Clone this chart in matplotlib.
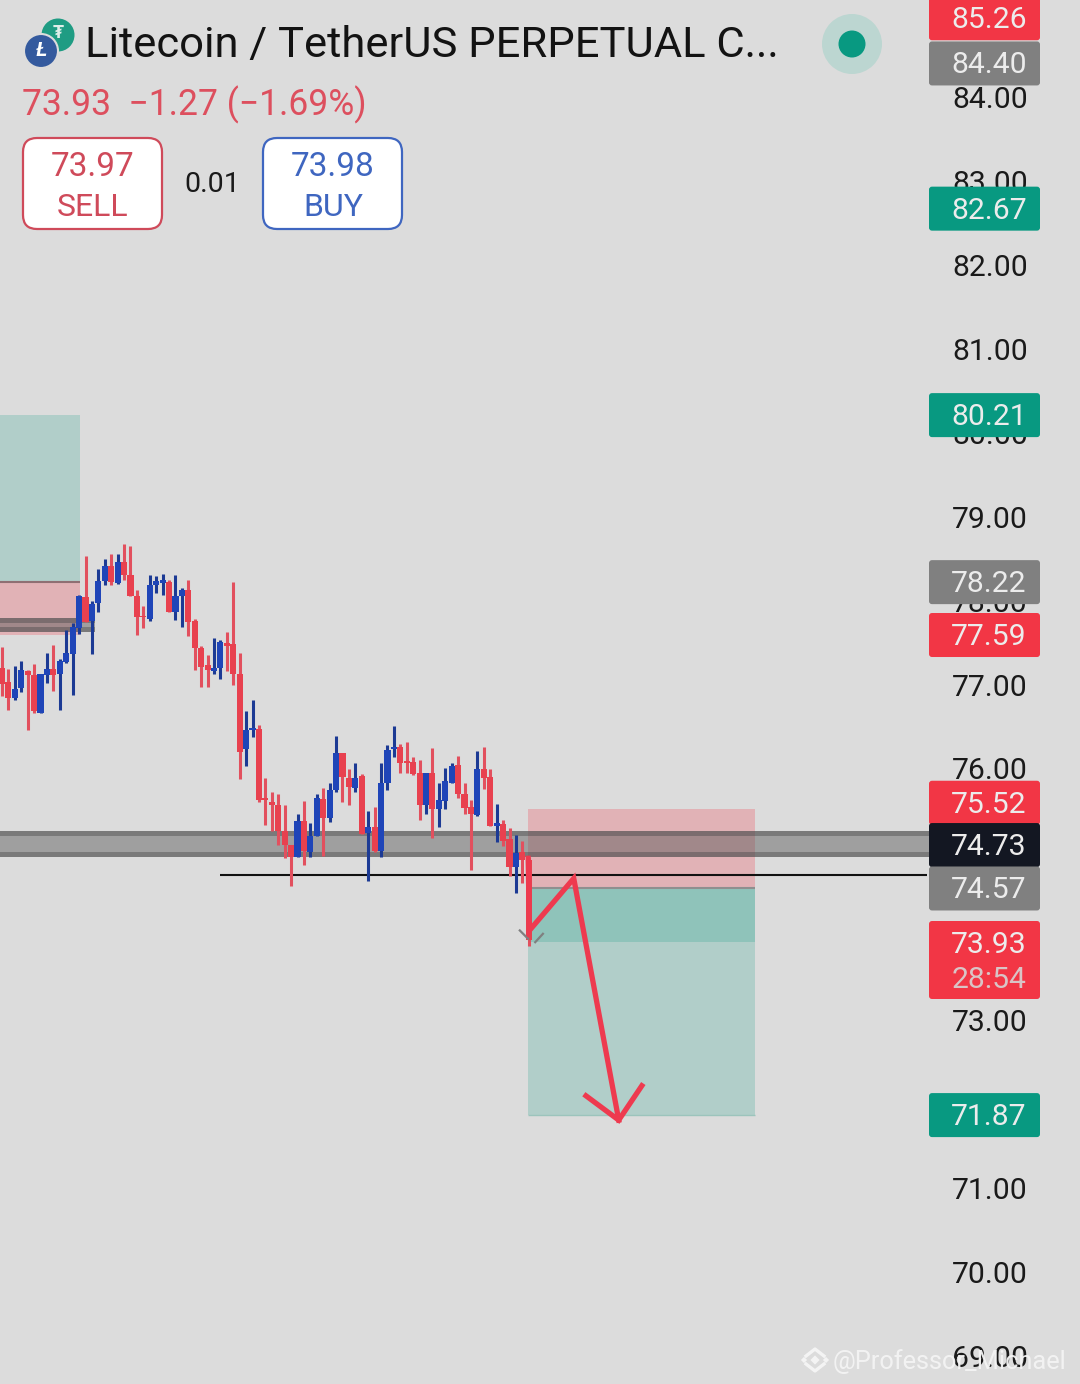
import matplotlib
matplotlib.use('Agg')
import matplotlib.pyplot as plt
from matplotlib.patches import Circle, FancyBboxPatch, Rectangle

plt.rcParams['font.family'] = ['Roboto', 'DejaVu Sans']

# OHLC
opens = [77.20, 77.03, 76.84, 76.96, 77.16, 77.11, 76.66, 77.11, 77.18, 77.13,
         77.27, 77.36, 77.67, 78.04, 77.76, 77.97, 78.23, 78.41, 78.21, 78.46,
         78.31, 78.06, 77.82, 77.78, 78.19, 78.21, 78.22, 77.87, 78.05, 78.13,
         77.76, 77.44, 77.23, 77.16, 77.20, 77.50, 77.48, 77.13, 76.23, 76.46,
         76.47, 75.65, 75.60, 75.57, 75.26, 75.09, 74.95, 75.37, 75.00, 75.19,
         75.64, 75.41, 75.74, 76.18, 75.89, 75.77, 75.91, 75.23, 75.30, 75.02,
         75.83, 76.23, 76.26, 76.09, 76.08, 75.94, 75.57, 75.95, 75.52, 75.61,
         75.83, 76.04, 75.70, 75.54, 75.45, 75.99, 75.90, 75.32, 75.34, 75.16,
         74.83, 75.00, 74.91]
highs = [77.45, 77.19, 77.22, 77.28, 77.17, 77.25, 77.12, 77.37, 77.47, 77.30,
         77.65, 77.73, 78.07, 78.53, 78.00, 78.38, 78.49, 78.55, 78.55, 78.68,
         78.65, 78.13, 77.93, 78.30, 78.29, 78.32, 78.24, 78.30, 78.15, 78.24,
         77.78, 77.46, 77.35, 77.56, 77.53, 77.63, 78.22, 77.38, 76.68, 76.82,
         76.52, 75.89, 75.72, 75.70, 75.56, 75.09, 75.46, 75.61, 75.35, 75.69,
         75.77, 75.83, 76.39, 76.19, 75.99, 76.07, 75.93, 75.49, 75.54, 76.07,
         76.28, 76.51, 76.29, 76.32, 76.14, 76.10, 75.95, 76.24, 75.83, 76.00,
         76.07, 76.15, 75.83, 75.63, 76.21, 76.25, 75.99, 75.58, 75.38, 75.29,
         75.21, 75.14, 74.95]
lows = [76.86, 76.70, 76.82, 76.91, 76.46, 76.66, 76.66, 77.02, 76.92, 76.70,
        77.26, 76.88, 77.60, 77.75, 77.36, 77.86, 78.19, 78.19, 78.20, 78.24,
        78.05, 77.59, 77.67, 77.76, 78.09, 78.07, 77.86, 77.77, 77.69, 77.58,
        77.17, 76.97, 76.97, 77.13, 77.06, 77.16, 76.99, 75.88, 76.03, 76.37,
        75.60, 75.33, 75.25, 75.09, 74.93, 74.60, 74.95, 74.85, 74.95, 75.19,
        74.96, 75.36, 75.72, 75.60, 75.56, 75.72, 75.22, 74.66, 75.01, 74.95,
        75.74, 76.14, 75.95, 75.95, 75.92, 75.38, 75.46, 75.17, 75.30, 75.52,
        75.83, 75.65, 75.46, 74.79, 75.43, 75.76, 75.31, 75.12, 75.08, 74.72,
        74.52, 74.64, 73.89]
closes = [77.01, 76.84, 76.95, 77.17, 77.11, 76.68, 77.12, 77.18, 77.11, 77.28,
          77.37, 77.69, 78.05, 77.75, 77.96, 78.23, 78.41, 78.22, 78.46, 78.31,
          78.06, 77.81, 77.80, 78.19, 78.23, 78.24, 77.86, 78.05, 78.13, 77.74,
          77.43, 77.21, 77.17, 77.20, 77.51, 77.46, 77.12, 76.20, 76.46, 76.48,
          75.63, 75.63, 75.56, 75.25, 75.09, 74.95, 75.37, 75.02, 75.20, 75.65,
          75.41, 75.74, 76.18, 75.90, 75.78, 75.89, 75.22, 75.30, 75.02, 75.83,
          76.22, 76.26, 76.07, 76.07, 75.93, 75.57, 75.95, 75.52, 75.63, 75.85,
          76.03, 75.69, 75.53, 75.46, 75.99, 75.89, 75.31, 75.35, 75.14, 74.83,
          74.99, 74.91, 73.96]

price_ticks = [69, 70, 71, 72, 73, 74, 75, 76, 77, 78, 79, 80, 81, 82, 83, 84, 85]

# price tags: value, colour, shift in pixels when the app moved the tag
tag_values = [85.26, 84.40, 82.67, 80.21, 78.22, 77.59, 75.52, 74.73, 74.57, 71.87]
tag_colors = ['#f23645', '#808080', '#089981', '#089981', '#808080', '#f23645',
              '#f23645', '#131722', '#808080', '#089981']
tag_shift = [27, 0, 0, 0, 0, 0, -6, -30, 0, 0]

# drawn levels
old_box_top, old_box_mid, old_box_bot = 80.21, 78.22, 77.59
old_zone = [77.79, 77.73, 77.69, 77.63]
zone = [75.25, 75.19, 75.00, 74.94]
entry_line = 74.73
stop, entry, last_price, target = 75.52, 74.57, 73.93, 71.87

# hand drawn arrow, bar number / price
arrow_bars = [81.9, 82.1, 89.0, 96.0]
arrow_prices = [74.93, 74.07, 74.69, 71.81]
head_bars = [90.9, 96.0, 99.6]
head_prices = [72.10, 71.81, 72.22]

fig = plt.figure(figsize=(10.8, 13.84), dpi=100, facecolor='#dcdcdc')
ax = fig.add_axes([0, 0, 1, 1], facecolor='#dcdcdc')
ax.set_xlim(-0.31, 167.8)
ax.set_ylim(68.666, 85.156)
for s in ax.spines.values():
    s.set_visible(False)
ax.set_xticks([])
ax.yaxis.tick_right()
ax.set_yticks(price_ticks)
ax.set_yticklabels([f'{p:.2f}' for p in price_ticks])
ax.tick_params(axis='y', length=0, pad=-92, labelsize=21.7, labelcolor='#1a1a1a')

RED = '#f23645'
TEAL = '#089981'

# old boxes on the left
ax.add_patch(Rectangle((-1, old_box_mid), 13.1, old_box_top - old_box_mid, fc=TEAL, alpha=0.2, lw=0))
ax.add_patch(Rectangle((-1, old_box_bot), 13.1, old_box_mid - old_box_bot, fc=RED, alpha=0.25, lw=0))
ax.hlines(old_box_mid, -1, 12.1, color='#8f6f73', lw=1.5)
ax.add_patch(Rectangle((-1, old_zone[3]), 15.5, old_zone[0] - old_zone[3], fc='#555555', alpha=0.45, lw=0))
ax.add_patch(Rectangle((-1, old_zone[1]), 15.5, old_zone[0] - old_zone[1], fc='#444444', alpha=0.4, lw=0))
ax.add_patch(Rectangle((-1, old_zone[3]), 15.5, old_zone[2] - old_zone[3], fc='#444444', alpha=0.4, lw=0))

# trade box
ax.add_patch(Rectangle((81.9, entry), 35.3, stop - entry, fc=RED, alpha=0.25, lw=0))
ax.add_patch(Rectangle((81.9, target), 35.3, entry - target, fc=TEAL, alpha=0.2, lw=0))
ax.add_patch(Rectangle((81.9, last_price), 35.3, entry - last_price, fc=TEAL, alpha=0.2, lw=0))
ax.hlines(target, 81.9, 117.2, color='#9cc4bc', lw=1)
ax.hlines(entry, 81.9, 117.2, color='#8f8f8f', lw=1.5)

# grey zone across the chart
ax.add_patch(Rectangle((-1, zone[3]), 145.5, zone[0] - zone[3], fc='#555555', alpha=0.45, lw=0))
ax.add_patch(Rectangle((-1, zone[1]), 145.5, zone[0] - zone[1], fc='#444444', alpha=0.4, lw=0))
ax.add_patch(Rectangle((-1, zone[3]), 145.5, zone[2] - zone[3], fc='#444444', alpha=0.4, lw=0))
ax.hlines(entry_line, 33.9, 144, color='#111111', lw=1.5, zorder=2.2)

# candles
bars = list(range(len(opens)))
body_col = ['#1f45b8' if c >= o else '#e8414f' for o, c in zip(opens, closes)]
wick_col = ['#1c3a94' if c >= o else '#e2505e' for o, c in zip(opens, closes)]
ax.vlines(bars, lows, highs, colors=wick_col, lw=2.2, zorder=3)
ax.bar(bars, [abs(c - o) for o, c in zip(opens, closes)], width=0.95,
       bottom=[min(o, c) for o, c in zip(opens, closes)], color=body_col, zorder=3.2)

# arrow
ax.plot([80.6, 81.9], [74.07, 73.97], color='#808080', lw=1.6, zorder=3.5)
ax.plot([83.0, 84.2], [73.93, 74.03], color='#808080', lw=1.6, zorder=3.5)
ax.plot(arrow_bars, arrow_prices, color='#ee3a4f', lw=3.8, zorder=4, solid_joinstyle='miter')
ax.plot(head_bars, head_prices, color='#ee3a4f', lw=3.8, zorder=4, solid_joinstyle='miter')

# overlay in screen pixels for the app chrome
ui = fig.add_axes([0, 0, 1, 1], facecolor='none', zorder=5)
ui.set_xlim(0, 1080)
ui.set_ylim(1384, 0)
ui.axis('off')


def y_of(price):
    return 1384 - ax.transData.transform((0, price))[1]


def tag(y0, y1, color):
    ui.add_patch(FancyBboxPatch((929 + 3, y0 + 3), 111 - 6, y1 - y0 - 6,
                                boxstyle='round,pad=3', fc=color, ec='none'))


for v, c, sh in zip(tag_values, tag_colors, tag_shift):
    yc = y_of(v) + sh
    tag(yc - 22, yc + 22, c)
    ui.text(989, yc + 2, f'{v:.2f}', color='#ececec', fontsize=21.7, ha='center', va='center')

tag(921, 999, RED)
ui.text(989, 945, f'{last_price:.2f}', color='#ececec', fontsize=21.7, ha='center', va='center')
ui.text(989, 980, '28:54', color='#d9c4c6', fontsize=21.7, ha='center', va='center')

# header
ui.add_patch(Circle((58, 35), 16.5, fc='#1f9c83', ec='none'))
ui.text(58, 33, '₮', color='#dfeee9', fontsize=13, ha='center', va='center', fontweight='bold')
ui.add_patch(Circle((41, 51), 17, fc='#345a9e', ec='#dcdcdc', lw=1.5))
ui.text(41, 51, 'Ł', color='white', fontsize=15, ha='center', va='center', fontweight='bold', style='italic')
ui.text(85, 45, 'Litecoin / TetherUS PERPETUAL C...', color='#131313', fontsize=31.3, ha='left', va='center')
ui.text(22, 105, '73.93  −1.27 (−1.69%)', color='#dd4f5e', fontsize=25.6, ha='left', va='center')

for x0, col, price, word in [(23, '#cf4a5a', '73.97', 'SELL'), (263, '#3f66c0', '73.98', 'BUY')]:
    ui.add_patch(FancyBboxPatch((x0 + 14, 138 + 14), 139 - 28, 91 - 28, boxstyle='round,pad=14',
                                fc='white', ec=col, lw=1.6))
    ui.text(x0 + 70, 167, price, color=col, fontsize=24, ha='center', va='center')
    ui.text(x0 + 70, 207, word, color=col, fontsize=23, ha='center', va='center')
ui.text(212, 185, '0.01', color='#1a1a1a', fontsize=20.5, ha='center', va='center')

ui.add_patch(Circle((852, 44), 30, fc='#bcd6d1', ec='none'))
ui.add_patch(Circle((852, 44), 13.5, fc=TEAL, ec='none'))

# watermark
ui.text(833, 1362, '@Professor_Michael', color='#f4f4f4', fontsize=18.3, ha='left', va='center', alpha=0.95)
ui.plot([806, 815, 824], [1356, 1349, 1356], color='#f4f4f4', lw=2.4)
ui.plot([806, 815, 824], [1364, 1371, 1364], color='#f4f4f4', lw=2.4)
ui.scatter([804, 815, 826], [1360, 1360, 1360], marker='D', s=[10, 22, 10], fc='#f4f4f4', ec='none')

fig.savefig('out.png', dpi=100, facecolor=fig.get_facecolor())
